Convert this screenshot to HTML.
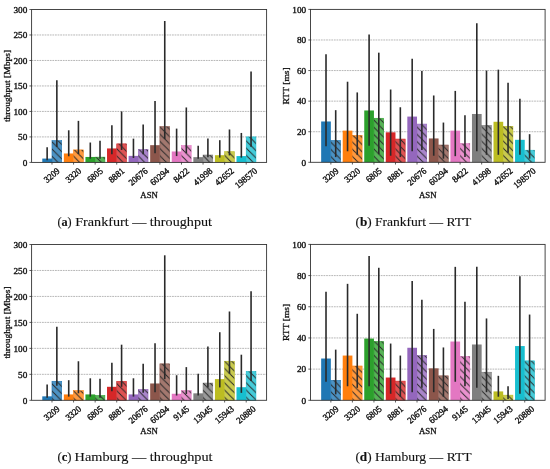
<!DOCTYPE html>
<html><head><meta charset="utf-8"><style>
html,body{margin:0;padding:0;background:#fff;}
svg{display:block;will-change:transform;}
text{font-family:"Liberation Serif", serif;fill:#111;stroke:#111;stroke-width:0.15px;} .tk{stroke-width:0.35px;} .cap{stroke-width:0.12px;} .lb{stroke-width:0.3px;}
</style></head><body>
<svg width="550" height="469" viewBox="0 0 550 469">
<defs><pattern id="hatch0" patternUnits="userSpaceOnUse" x="4.1" y="0" width="7.23" height="7.23"><path d="M-1,-1 L8.23,8.23 M-8.23,-1 L1,8.23 M6.23,-1 L15.46,8.23" stroke="#262626" stroke-width="0.95" fill="none"/></pattern><pattern id="hatch1" patternUnits="userSpaceOnUse" x="0.7" y="0" width="7.23" height="7.23"><path d="M-1,-1 L8.23,8.23 M-8.23,-1 L1,8.23 M6.23,-1 L15.46,8.23" stroke="#262626" stroke-width="0.95" fill="none"/></pattern><pattern id="hatch2" patternUnits="userSpaceOnUse" x="0.7" y="0" width="7.23" height="7.23"><path d="M-1,-1 L8.23,8.23 M-8.23,-1 L1,8.23 M6.23,-1 L15.46,8.23" stroke="#262626" stroke-width="0.95" fill="none"/></pattern><pattern id="hatch3" patternUnits="userSpaceOnUse" x="4.1" y="0" width="7.23" height="7.23"><path d="M-1,-1 L8.23,8.23 M-8.23,-1 L1,8.23 M6.23,-1 L15.46,8.23" stroke="#262626" stroke-width="0.95" fill="none"/></pattern></defs>
<line x1="31.60" y1="136.92" x2="266.60" y2="136.92" stroke="#b0b0b0" stroke-width="0.9" stroke-dasharray="1.8,0.8"/>
<line x1="31.60" y1="111.43" x2="266.60" y2="111.43" stroke="#b0b0b0" stroke-width="0.9" stroke-dasharray="1.8,0.8"/>
<line x1="31.60" y1="85.95" x2="266.60" y2="85.95" stroke="#b0b0b0" stroke-width="0.9" stroke-dasharray="1.8,0.8"/>
<line x1="31.60" y1="60.47" x2="266.60" y2="60.47" stroke="#b0b0b0" stroke-width="0.9" stroke-dasharray="1.8,0.8"/>
<line x1="31.60" y1="34.98" x2="266.60" y2="34.98" stroke="#b0b0b0" stroke-width="0.9" stroke-dasharray="1.8,0.8"/>
<rect x="42.28" y="158.58" width="9.71" height="3.82" fill="#1f77b4"/>
<rect x="51.99" y="140.59" width="9.71" height="21.81" fill="#4c92c3" stroke="#1f77b4" stroke-width="0.6"/>
<rect x="51.99" y="140.59" width="9.71" height="21.81" fill="url(#hatch0)"/>
<rect x="63.86" y="153.48" width="9.71" height="8.92" fill="#ff7f0e"/>
<rect x="73.57" y="149.91" width="9.71" height="12.49" fill="#ff993e" stroke="#ff7f0e" stroke-width="0.6"/>
<rect x="73.57" y="149.91" width="9.71" height="12.49" fill="url(#hatch0)"/>
<rect x="85.44" y="156.95" width="9.71" height="5.45" fill="#2ca02c"/>
<rect x="95.15" y="157.15" width="9.71" height="5.25" fill="#56b356" stroke="#2ca02c" stroke-width="0.6"/>
<rect x="95.15" y="157.15" width="9.71" height="5.25" fill="url(#hatch0)"/>
<rect x="107.02" y="148.44" width="9.71" height="13.96" fill="#d62728"/>
<rect x="116.73" y="143.85" width="9.71" height="18.55" fill="#de5253" stroke="#d62728" stroke-width="0.6"/>
<rect x="116.73" y="143.85" width="9.71" height="18.55" fill="url(#hatch0)"/>
<rect x="128.60" y="155.88" width="9.71" height="6.52" fill="#9467bd"/>
<rect x="138.31" y="149.56" width="9.71" height="12.84" fill="#a985ca" stroke="#9467bd" stroke-width="0.6"/>
<rect x="138.31" y="149.56" width="9.71" height="12.84" fill="url(#hatch0)"/>
<rect x="150.18" y="145.17" width="9.71" height="17.23" fill="#8c564b"/>
<rect x="159.89" y="126.62" width="9.71" height="35.78" fill="#a3786f" stroke="#8c564b" stroke-width="0.6"/>
<rect x="159.89" y="126.62" width="9.71" height="35.78" fill="url(#hatch0)"/>
<rect x="171.76" y="151.49" width="9.71" height="10.91" fill="#e377c2"/>
<rect x="181.47" y="145.63" width="9.71" height="16.77" fill="#e992ce" stroke="#e377c2" stroke-width="0.6"/>
<rect x="181.47" y="145.63" width="9.71" height="16.77" fill="url(#hatch0)"/>
<rect x="193.34" y="157.15" width="9.71" height="5.25" fill="#7f7f7f"/>
<rect x="203.05" y="155.01" width="9.71" height="7.39" fill="#999999" stroke="#7f7f7f" stroke-width="0.6"/>
<rect x="203.05" y="155.01" width="9.71" height="7.39" fill="url(#hatch0)"/>
<rect x="214.92" y="155.21" width="9.71" height="7.19" fill="#bcbd22"/>
<rect x="224.63" y="151.70" width="9.71" height="10.70" fill="#c9ca4e" stroke="#bcbd22" stroke-width="0.6"/>
<rect x="224.63" y="151.70" width="9.71" height="10.70" fill="url(#hatch0)"/>
<rect x="236.50" y="156.08" width="9.71" height="6.32" fill="#17becf"/>
<rect x="246.21" y="136.92" width="9.71" height="25.48" fill="#45cbd9" stroke="#17becf" stroke-width="0.6"/>
<rect x="246.21" y="136.92" width="9.71" height="25.48" fill="url(#hatch0)"/>
<line x1="47.14" y1="160.36" x2="47.14" y2="147.36" stroke="#2a2a2a" stroke-width="1.6"/>
<line x1="56.85" y1="147.11" x2="56.85" y2="80.34" stroke="#2a2a2a" stroke-width="1.6"/>
<line x1="68.72" y1="156.28" x2="68.72" y2="130.29" stroke="#2a2a2a" stroke-width="1.6"/>
<line x1="78.43" y1="153.99" x2="78.43" y2="120.86" stroke="#2a2a2a" stroke-width="1.6"/>
<line x1="90.30" y1="158.68" x2="90.30" y2="142.52" stroke="#2a2a2a" stroke-width="1.6"/>
<line x1="100.01" y1="158.68" x2="100.01" y2="140.74" stroke="#2a2a2a" stroke-width="1.6"/>
<line x1="111.88" y1="154.35" x2="111.88" y2="125.35" stroke="#2a2a2a" stroke-width="1.6"/>
<line x1="121.59" y1="149.96" x2="121.59" y2="111.43" stroke="#2a2a2a" stroke-width="1.6"/>
<line x1="133.45" y1="158.02" x2="133.45" y2="138.65" stroke="#2a2a2a" stroke-width="1.6"/>
<line x1="143.17" y1="154.35" x2="143.17" y2="124.43" stroke="#2a2a2a" stroke-width="1.6"/>
<line x1="155.03" y1="153.23" x2="155.03" y2="100.88" stroke="#2a2a2a" stroke-width="1.6"/>
<line x1="164.75" y1="139.06" x2="164.75" y2="20.97" stroke="#2a2a2a" stroke-width="1.6"/>
<line x1="176.61" y1="156.08" x2="176.61" y2="128.61" stroke="#2a2a2a" stroke-width="1.6"/>
<line x1="186.32" y1="153.23" x2="186.32" y2="107.46" stroke="#2a2a2a" stroke-width="1.6"/>
<line x1="198.19" y1="158.68" x2="198.19" y2="145.63" stroke="#2a2a2a" stroke-width="1.6"/>
<line x1="207.90" y1="157.15" x2="207.90" y2="138.39" stroke="#2a2a2a" stroke-width="1.6"/>
<line x1="219.77" y1="157.61" x2="219.77" y2="140.18" stroke="#2a2a2a" stroke-width="1.6"/>
<line x1="229.48" y1="155.42" x2="229.48" y2="129.48" stroke="#2a2a2a" stroke-width="1.6"/>
<line x1="241.35" y1="157.61" x2="241.35" y2="132.94" stroke="#2a2a2a" stroke-width="1.6"/>
<line x1="251.06" y1="146.70" x2="251.06" y2="71.58" stroke="#2a2a2a" stroke-width="1.6"/>
<rect x="31.60" y="9.50" width="235.00" height="152.90" fill="none" stroke="#333" stroke-width="0.9"/>
<line x1="29.40" y1="162.40" x2="31.60" y2="162.40" stroke="#333" stroke-width="0.8"/>
<text class="tk" transform="translate(27.30,165.66) scale(1.05,0.95)" text-anchor="end" font-size="8.8">0</text>
<line x1="29.40" y1="136.92" x2="31.60" y2="136.92" stroke="#333" stroke-width="0.8"/>
<text class="tk" transform="translate(27.30,140.18) scale(1.05,0.95)" text-anchor="end" font-size="8.8">50</text>
<line x1="29.40" y1="111.43" x2="31.60" y2="111.43" stroke="#333" stroke-width="0.8"/>
<text class="tk" transform="translate(27.30,114.69) scale(1.05,0.95)" text-anchor="end" font-size="8.8">100</text>
<line x1="29.40" y1="85.95" x2="31.60" y2="85.95" stroke="#333" stroke-width="0.8"/>
<text class="tk" transform="translate(27.30,89.21) scale(1.05,0.95)" text-anchor="end" font-size="8.8">150</text>
<line x1="29.40" y1="60.47" x2="31.60" y2="60.47" stroke="#333" stroke-width="0.8"/>
<text class="tk" transform="translate(27.30,63.73) scale(1.05,0.95)" text-anchor="end" font-size="8.8">200</text>
<line x1="29.40" y1="34.98" x2="31.60" y2="34.98" stroke="#333" stroke-width="0.8"/>
<text class="tk" transform="translate(27.30,38.24) scale(1.05,0.95)" text-anchor="end" font-size="8.8">250</text>
<line x1="29.40" y1="9.50" x2="31.60" y2="9.50" stroke="#333" stroke-width="0.8"/>
<text class="tk" transform="translate(27.30,12.76) scale(1.05,0.95)" text-anchor="end" font-size="8.8">300</text>
<line x1="51.99" y1="162.40" x2="51.99" y2="164.60" stroke="#333" stroke-width="0.8"/>
<text class="tk" transform="translate(60.37,172.02) rotate(-40) scale(1.0,1.05)" text-anchor="end" font-size="8.7" letter-spacing="0.0">3209</text>
<line x1="73.57" y1="162.40" x2="73.57" y2="164.60" stroke="#333" stroke-width="0.8"/>
<text class="tk" transform="translate(81.94,172.02) rotate(-40) scale(1.0,1.05)" text-anchor="end" font-size="8.7" letter-spacing="0.0">3320</text>
<line x1="95.15" y1="162.40" x2="95.15" y2="164.60" stroke="#333" stroke-width="0.8"/>
<text class="tk" transform="translate(103.52,172.02) rotate(-40) scale(1.0,1.05)" text-anchor="end" font-size="8.7" letter-spacing="0.0">6805</text>
<line x1="116.73" y1="162.40" x2="116.73" y2="164.60" stroke="#333" stroke-width="0.8"/>
<text class="tk" transform="translate(125.10,172.02) rotate(-40) scale(1.0,1.05)" text-anchor="end" font-size="8.7" letter-spacing="0.0">8881</text>
<line x1="138.31" y1="162.40" x2="138.31" y2="164.60" stroke="#333" stroke-width="0.8"/>
<text class="tk" transform="translate(148.35,172.02) rotate(-40) scale(1.0,1.05)" text-anchor="end" font-size="8.7" letter-spacing="0.0">20676</text>
<line x1="159.89" y1="162.40" x2="159.89" y2="164.60" stroke="#333" stroke-width="0.8"/>
<text class="tk" transform="translate(169.93,172.02) rotate(-40) scale(1.0,1.05)" text-anchor="end" font-size="8.7" letter-spacing="0.0">60294</text>
<line x1="181.47" y1="162.40" x2="181.47" y2="164.60" stroke="#333" stroke-width="0.8"/>
<text class="tk" transform="translate(189.84,172.02) rotate(-40) scale(1.0,1.05)" text-anchor="end" font-size="8.7" letter-spacing="0.0">8422</text>
<line x1="203.05" y1="162.40" x2="203.05" y2="164.60" stroke="#333" stroke-width="0.8"/>
<text class="tk" transform="translate(213.09,172.02) rotate(-40) scale(1.0,1.05)" text-anchor="end" font-size="8.7" letter-spacing="0.0">41998</text>
<line x1="224.63" y1="162.40" x2="224.63" y2="164.60" stroke="#333" stroke-width="0.8"/>
<text class="tk" transform="translate(234.67,172.02) rotate(-40) scale(1.0,1.05)" text-anchor="end" font-size="8.7" letter-spacing="0.0">42652</text>
<line x1="246.21" y1="162.40" x2="246.21" y2="164.60" stroke="#333" stroke-width="0.8"/>
<text class="tk" transform="translate(257.91,172.02) rotate(-40) scale(1.0,1.05)" text-anchor="end" font-size="8.7" letter-spacing="0.0">198570</text>
<text x="149.10" y="197.90" class="lb" text-anchor="middle" font-size="8.8">ASN</text>
<text transform="translate(10.30,85.95) rotate(-90) scale(1.085,1)" class="lb" text-anchor="middle" font-size="8.8">throughput [Mbps]</text>
<text class="cap" x="57.40" y="226.20" font-size="12.9" textLength="14.30" lengthAdjust="spacingAndGlyphs">(<tspan font-weight="bold">a</tspan>)</text>
<text class="cap" x="75.20" y="226.20" font-size="12.9" textLength="136.80" lengthAdjust="spacingAndGlyphs">Frankfurt — throughput</text>
<line x1="310.50" y1="131.72" x2="545.10" y2="131.72" stroke="#b0b0b0" stroke-width="0.9" stroke-dasharray="1.8,0.8"/>
<line x1="310.50" y1="101.14" x2="545.10" y2="101.14" stroke="#b0b0b0" stroke-width="0.9" stroke-dasharray="1.8,0.8"/>
<line x1="310.50" y1="70.56" x2="545.10" y2="70.56" stroke="#b0b0b0" stroke-width="0.9" stroke-dasharray="1.8,0.8"/>
<line x1="310.50" y1="39.98" x2="545.10" y2="39.98" stroke="#b0b0b0" stroke-width="0.9" stroke-dasharray="1.8,0.8"/>
<rect x="321.16" y="121.48" width="9.69" height="40.82" fill="#1f77b4"/>
<rect x="330.86" y="140.44" width="9.69" height="21.86" fill="#4c92c3" stroke="#1f77b4" stroke-width="0.6"/>
<rect x="330.86" y="140.44" width="9.69" height="21.86" fill="url(#hatch1)"/>
<rect x="342.71" y="130.65" width="9.69" height="31.65" fill="#ff7f0e"/>
<rect x="352.40" y="135.54" width="9.69" height="26.76" fill="#ff993e" stroke="#ff7f0e" stroke-width="0.6"/>
<rect x="352.40" y="135.54" width="9.69" height="26.76" fill="url(#hatch1)"/>
<rect x="364.25" y="110.47" width="9.69" height="51.83" fill="#2ca02c"/>
<rect x="373.94" y="118.26" width="9.69" height="44.04" fill="#56b356" stroke="#2ca02c" stroke-width="0.6"/>
<rect x="373.94" y="118.26" width="9.69" height="44.04" fill="url(#hatch1)"/>
<rect x="385.79" y="132.33" width="9.69" height="29.97" fill="#d62728"/>
<rect x="395.49" y="139.06" width="9.69" height="23.24" fill="#de5253" stroke="#d62728" stroke-width="0.6"/>
<rect x="395.49" y="139.06" width="9.69" height="23.24" fill="url(#hatch1)"/>
<rect x="407.33" y="116.58" width="9.69" height="45.72" fill="#9467bd"/>
<rect x="417.03" y="124.08" width="9.69" height="38.23" fill="#a985ca" stroke="#9467bd" stroke-width="0.6"/>
<rect x="417.03" y="124.08" width="9.69" height="38.23" fill="url(#hatch1)"/>
<rect x="428.88" y="138.45" width="9.69" height="23.85" fill="#8c564b"/>
<rect x="438.57" y="145.02" width="9.69" height="17.28" fill="#a3786f" stroke="#8c564b" stroke-width="0.6"/>
<rect x="438.57" y="145.02" width="9.69" height="17.28" fill="url(#hatch1)"/>
<rect x="450.42" y="130.65" width="9.69" height="31.65" fill="#e377c2"/>
<rect x="460.11" y="143.65" width="9.69" height="18.65" fill="#e992ce" stroke="#e377c2" stroke-width="0.6"/>
<rect x="460.11" y="143.65" width="9.69" height="18.65" fill="url(#hatch1)"/>
<rect x="471.96" y="113.98" width="9.69" height="48.32" fill="#7f7f7f"/>
<rect x="481.66" y="125.45" width="9.69" height="36.85" fill="#999999" stroke="#7f7f7f" stroke-width="0.6"/>
<rect x="481.66" y="125.45" width="9.69" height="36.85" fill="url(#hatch1)"/>
<rect x="493.51" y="121.78" width="9.69" height="40.52" fill="#bcbd22"/>
<rect x="503.20" y="126.37" width="9.69" height="35.93" fill="#c9ca4e" stroke="#bcbd22" stroke-width="0.6"/>
<rect x="503.20" y="126.37" width="9.69" height="35.93" fill="url(#hatch1)"/>
<rect x="515.05" y="139.82" width="9.69" height="22.48" fill="#17becf"/>
<rect x="524.74" y="150.22" width="9.69" height="12.08" fill="#45cbd9" stroke="#17becf" stroke-width="0.6"/>
<rect x="524.74" y="150.22" width="9.69" height="12.08" fill="url(#hatch1)"/>
<line x1="326.01" y1="146.25" x2="326.01" y2="54.35" stroke="#2a2a2a" stroke-width="1.6"/>
<line x1="335.70" y1="157.10" x2="335.70" y2="110.16" stroke="#2a2a2a" stroke-width="1.6"/>
<line x1="347.55" y1="151.29" x2="347.55" y2="81.72" stroke="#2a2a2a" stroke-width="1.6"/>
<line x1="357.25" y1="154.81" x2="357.25" y2="92.42" stroke="#2a2a2a" stroke-width="1.6"/>
<line x1="369.10" y1="145.63" x2="369.10" y2="34.48" stroke="#2a2a2a" stroke-width="1.6"/>
<line x1="378.79" y1="154.20" x2="378.79" y2="52.67" stroke="#2a2a2a" stroke-width="1.6"/>
<line x1="390.64" y1="155.73" x2="390.64" y2="89.52" stroke="#2a2a2a" stroke-width="1.6"/>
<line x1="400.33" y1="157.10" x2="400.33" y2="107.26" stroke="#2a2a2a" stroke-width="1.6"/>
<line x1="412.18" y1="151.29" x2="412.18" y2="58.63" stroke="#2a2a2a" stroke-width="1.6"/>
<line x1="421.88" y1="149.92" x2="421.88" y2="71.02" stroke="#2a2a2a" stroke-width="1.6"/>
<line x1="433.72" y1="155.73" x2="433.72" y2="95.48" stroke="#2a2a2a" stroke-width="1.6"/>
<line x1="443.42" y1="158.63" x2="443.42" y2="122.55" stroke="#2a2a2a" stroke-width="1.6"/>
<line x1="455.27" y1="156.18" x2="455.27" y2="90.90" stroke="#2a2a2a" stroke-width="1.6"/>
<line x1="464.96" y1="157.10" x2="464.96" y2="115.36" stroke="#2a2a2a" stroke-width="1.6"/>
<line x1="476.81" y1="151.29" x2="476.81" y2="23.31" stroke="#2a2a2a" stroke-width="1.6"/>
<line x1="486.50" y1="154.81" x2="486.50" y2="70.56" stroke="#2a2a2a" stroke-width="1.6"/>
<line x1="498.35" y1="154.81" x2="498.35" y2="69.64" stroke="#2a2a2a" stroke-width="1.6"/>
<line x1="508.05" y1="152.82" x2="508.05" y2="82.64" stroke="#2a2a2a" stroke-width="1.6"/>
<line x1="519.90" y1="154.81" x2="519.90" y2="98.69" stroke="#2a2a2a" stroke-width="1.6"/>
<line x1="529.59" y1="158.63" x2="529.59" y2="134.17" stroke="#2a2a2a" stroke-width="1.6"/>
<rect x="310.50" y="9.40" width="234.60" height="152.90" fill="none" stroke="#333" stroke-width="0.9"/>
<line x1="308.30" y1="162.30" x2="310.50" y2="162.30" stroke="#333" stroke-width="0.8"/>
<text class="tk" transform="translate(306.20,165.56) scale(1.05,0.95)" text-anchor="end" font-size="8.8">0</text>
<line x1="308.30" y1="131.72" x2="310.50" y2="131.72" stroke="#333" stroke-width="0.8"/>
<text class="tk" transform="translate(306.20,134.98) scale(1.05,0.95)" text-anchor="end" font-size="8.8">20</text>
<line x1="308.30" y1="101.14" x2="310.50" y2="101.14" stroke="#333" stroke-width="0.8"/>
<text class="tk" transform="translate(306.20,104.40) scale(1.05,0.95)" text-anchor="end" font-size="8.8">40</text>
<line x1="308.30" y1="70.56" x2="310.50" y2="70.56" stroke="#333" stroke-width="0.8"/>
<text class="tk" transform="translate(306.20,73.82) scale(1.05,0.95)" text-anchor="end" font-size="8.8">60</text>
<line x1="308.30" y1="39.98" x2="310.50" y2="39.98" stroke="#333" stroke-width="0.8"/>
<text class="tk" transform="translate(306.20,43.24) scale(1.05,0.95)" text-anchor="end" font-size="8.8">80</text>
<line x1="308.30" y1="9.40" x2="310.50" y2="9.40" stroke="#333" stroke-width="0.8"/>
<text class="tk" transform="translate(306.20,12.66) scale(1.05,0.95)" text-anchor="end" font-size="8.8">100</text>
<line x1="330.86" y1="162.30" x2="330.86" y2="164.50" stroke="#333" stroke-width="0.8"/>
<text class="tk" transform="translate(339.23,171.92) rotate(-40) scale(1.0,1.05)" text-anchor="end" font-size="8.7" letter-spacing="0.0">3209</text>
<line x1="352.40" y1="162.30" x2="352.40" y2="164.50" stroke="#333" stroke-width="0.8"/>
<text class="tk" transform="translate(360.77,171.92) rotate(-40) scale(1.0,1.05)" text-anchor="end" font-size="8.7" letter-spacing="0.0">3320</text>
<line x1="373.94" y1="162.30" x2="373.94" y2="164.50" stroke="#333" stroke-width="0.8"/>
<text class="tk" transform="translate(382.32,171.92) rotate(-40) scale(1.0,1.05)" text-anchor="end" font-size="8.7" letter-spacing="0.0">6805</text>
<line x1="395.49" y1="162.30" x2="395.49" y2="164.50" stroke="#333" stroke-width="0.8"/>
<text class="tk" transform="translate(403.86,171.92) rotate(-40) scale(1.0,1.05)" text-anchor="end" font-size="8.7" letter-spacing="0.0">8881</text>
<line x1="417.03" y1="162.30" x2="417.03" y2="164.50" stroke="#333" stroke-width="0.8"/>
<text class="tk" transform="translate(427.07,171.92) rotate(-40) scale(1.0,1.05)" text-anchor="end" font-size="8.7" letter-spacing="0.0">20676</text>
<line x1="438.57" y1="162.30" x2="438.57" y2="164.50" stroke="#333" stroke-width="0.8"/>
<text class="tk" transform="translate(448.61,171.92) rotate(-40) scale(1.0,1.05)" text-anchor="end" font-size="8.7" letter-spacing="0.0">60294</text>
<line x1="460.11" y1="162.30" x2="460.11" y2="164.50" stroke="#333" stroke-width="0.8"/>
<text class="tk" transform="translate(468.49,171.92) rotate(-40) scale(1.0,1.05)" text-anchor="end" font-size="8.7" letter-spacing="0.0">8422</text>
<line x1="481.66" y1="162.30" x2="481.66" y2="164.50" stroke="#333" stroke-width="0.8"/>
<text class="tk" transform="translate(491.70,171.92) rotate(-40) scale(1.0,1.05)" text-anchor="end" font-size="8.7" letter-spacing="0.0">41998</text>
<line x1="503.20" y1="162.30" x2="503.20" y2="164.50" stroke="#333" stroke-width="0.8"/>
<text class="tk" transform="translate(513.24,171.92) rotate(-40) scale(1.0,1.05)" text-anchor="end" font-size="8.7" letter-spacing="0.0">42652</text>
<line x1="524.74" y1="162.30" x2="524.74" y2="164.50" stroke="#333" stroke-width="0.8"/>
<text class="tk" transform="translate(536.45,171.92) rotate(-40) scale(1.0,1.05)" text-anchor="end" font-size="8.7" letter-spacing="0.0">198570</text>
<text x="427.80" y="197.80" class="lb" text-anchor="middle" font-size="8.8">ASN</text>
<text transform="translate(289.20,85.85) rotate(-90) scale(1.085,1)" class="lb" text-anchor="middle" font-size="8.8">RTT [ms]</text>
<text class="cap" x="355.50" y="226.20" font-size="12.9" textLength="16.20" lengthAdjust="spacingAndGlyphs">(<tspan font-weight="bold">b</tspan>)</text>
<text class="cap" x="374.90" y="226.20" font-size="12.9" textLength="96.30" lengthAdjust="spacingAndGlyphs">Frankfurt — RTT</text>
<line x1="31.60" y1="374.33" x2="266.60" y2="374.33" stroke="#b0b0b0" stroke-width="0.9" stroke-dasharray="1.8,0.8"/>
<line x1="31.60" y1="348.37" x2="266.60" y2="348.37" stroke="#b0b0b0" stroke-width="0.9" stroke-dasharray="1.8,0.8"/>
<line x1="31.60" y1="322.40" x2="266.60" y2="322.40" stroke="#b0b0b0" stroke-width="0.9" stroke-dasharray="1.8,0.8"/>
<line x1="31.60" y1="296.43" x2="266.60" y2="296.43" stroke="#b0b0b0" stroke-width="0.9" stroke-dasharray="1.8,0.8"/>
<line x1="31.60" y1="270.47" x2="266.60" y2="270.47" stroke="#b0b0b0" stroke-width="0.9" stroke-dasharray="1.8,0.8"/>
<rect x="42.28" y="396.35" width="9.71" height="3.95" fill="#1f77b4"/>
<rect x="51.99" y="381.29" width="9.71" height="19.01" fill="#4c92c3" stroke="#1f77b4" stroke-width="0.6"/>
<rect x="51.99" y="381.29" width="9.71" height="19.01" fill="url(#hatch2)"/>
<rect x="63.86" y="394.43" width="9.71" height="5.87" fill="#ff7f0e"/>
<rect x="73.57" y="390.69" width="9.71" height="9.61" fill="#ff993e" stroke="#ff7f0e" stroke-width="0.6"/>
<rect x="73.57" y="390.69" width="9.71" height="9.61" fill="url(#hatch2)"/>
<rect x="85.44" y="394.43" width="9.71" height="5.87" fill="#2ca02c"/>
<rect x="95.15" y="395.52" width="9.71" height="4.78" fill="#56b356" stroke="#2ca02c" stroke-width="0.6"/>
<rect x="95.15" y="395.52" width="9.71" height="4.78" fill="url(#hatch2)"/>
<rect x="107.02" y="386.80" width="9.71" height="13.50" fill="#d62728"/>
<rect x="116.73" y="381.29" width="9.71" height="19.01" fill="#de5253" stroke="#d62728" stroke-width="0.6"/>
<rect x="116.73" y="381.29" width="9.71" height="19.01" fill="url(#hatch2)"/>
<rect x="128.60" y="394.43" width="9.71" height="5.87" fill="#9467bd"/>
<rect x="138.31" y="389.39" width="9.71" height="10.91" fill="#a985ca" stroke="#9467bd" stroke-width="0.6"/>
<rect x="138.31" y="389.39" width="9.71" height="10.91" fill="url(#hatch2)"/>
<rect x="150.18" y="383.47" width="9.71" height="16.83" fill="#8c564b"/>
<rect x="159.89" y="363.84" width="9.71" height="36.46" fill="#a3786f" stroke="#8c564b" stroke-width="0.6"/>
<rect x="159.89" y="363.84" width="9.71" height="36.46" fill="url(#hatch2)"/>
<rect x="171.76" y="393.76" width="9.71" height="6.54" fill="#e377c2"/>
<rect x="181.47" y="390.69" width="9.71" height="9.61" fill="#e992ce" stroke="#e377c2" stroke-width="0.6"/>
<rect x="181.47" y="390.69" width="9.71" height="9.61" fill="url(#hatch2)"/>
<rect x="193.34" y="393.34" width="9.71" height="6.96" fill="#7f7f7f"/>
<rect x="203.05" y="383.06" width="9.71" height="17.24" fill="#999999" stroke="#7f7f7f" stroke-width="0.6"/>
<rect x="203.05" y="383.06" width="9.71" height="17.24" fill="url(#hatch2)"/>
<rect x="214.92" y="379.11" width="9.71" height="21.19" fill="#bcbd22"/>
<rect x="224.63" y="361.25" width="9.71" height="39.05" fill="#c9ca4e" stroke="#bcbd22" stroke-width="0.6"/>
<rect x="224.63" y="361.25" width="9.71" height="39.05" fill="url(#hatch2)"/>
<rect x="236.50" y="387.21" width="9.71" height="13.09" fill="#17becf"/>
<rect x="246.21" y="371.48" width="9.71" height="28.82" fill="#45cbd9" stroke="#17becf" stroke-width="0.6"/>
<rect x="246.21" y="371.48" width="9.71" height="28.82" fill="url(#hatch2)"/>
<line x1="47.14" y1="397.70" x2="47.14" y2="384.56" stroke="#2a2a2a" stroke-width="1.6"/>
<line x1="56.85" y1="385.65" x2="56.85" y2="326.76" stroke="#2a2a2a" stroke-width="1.6"/>
<line x1="68.72" y1="396.61" x2="68.72" y2="380.20" stroke="#2a2a2a" stroke-width="1.6"/>
<line x1="78.43" y1="393.34" x2="78.43" y2="361.25" stroke="#2a2a2a" stroke-width="1.6"/>
<line x1="90.30" y1="396.61" x2="90.30" y2="378.28" stroke="#2a2a2a" stroke-width="1.6"/>
<line x1="100.01" y1="397.70" x2="100.01" y2="378.70" stroke="#2a2a2a" stroke-width="1.6"/>
<line x1="111.88" y1="391.16" x2="111.88" y2="362.75" stroke="#2a2a2a" stroke-width="1.6"/>
<line x1="121.59" y1="386.80" x2="121.59" y2="344.68" stroke="#2a2a2a" stroke-width="1.6"/>
<line x1="133.45" y1="396.61" x2="133.45" y2="378.28" stroke="#2a2a2a" stroke-width="1.6"/>
<line x1="143.17" y1="392.67" x2="143.17" y2="363.84" stroke="#2a2a2a" stroke-width="1.6"/>
<line x1="155.03" y1="392.25" x2="155.03" y2="343.17" stroke="#2a2a2a" stroke-width="1.6"/>
<line x1="164.75" y1="379.11" x2="164.75" y2="255.30" stroke="#2a2a2a" stroke-width="1.6"/>
<line x1="176.61" y1="395.52" x2="176.61" y2="375.22" stroke="#2a2a2a" stroke-width="1.6"/>
<line x1="186.32" y1="393.96" x2="186.32" y2="367.11" stroke="#2a2a2a" stroke-width="1.6"/>
<line x1="198.19" y1="395.52" x2="198.19" y2="373.66" stroke="#2a2a2a" stroke-width="1.6"/>
<line x1="207.90" y1="387.42" x2="207.90" y2="346.39" stroke="#2a2a2a" stroke-width="1.6"/>
<line x1="219.77" y1="387.42" x2="219.77" y2="332.22" stroke="#2a2a2a" stroke-width="1.6"/>
<line x1="229.48" y1="373.66" x2="229.48" y2="311.49" stroke="#2a2a2a" stroke-width="1.6"/>
<line x1="241.35" y1="392.87" x2="241.35" y2="354.70" stroke="#2a2a2a" stroke-width="1.6"/>
<line x1="251.06" y1="380.88" x2="251.06" y2="291.29" stroke="#2a2a2a" stroke-width="1.6"/>
<rect x="31.60" y="244.50" width="235.00" height="155.80" fill="none" stroke="#333" stroke-width="0.9"/>
<line x1="29.40" y1="400.30" x2="31.60" y2="400.30" stroke="#333" stroke-width="0.8"/>
<text class="tk" transform="translate(27.30,403.56) scale(1.05,0.95)" text-anchor="end" font-size="8.8">0</text>
<line x1="29.40" y1="374.33" x2="31.60" y2="374.33" stroke="#333" stroke-width="0.8"/>
<text class="tk" transform="translate(27.30,377.59) scale(1.05,0.95)" text-anchor="end" font-size="8.8">50</text>
<line x1="29.40" y1="348.37" x2="31.60" y2="348.37" stroke="#333" stroke-width="0.8"/>
<text class="tk" transform="translate(27.30,351.63) scale(1.05,0.95)" text-anchor="end" font-size="8.8">100</text>
<line x1="29.40" y1="322.40" x2="31.60" y2="322.40" stroke="#333" stroke-width="0.8"/>
<text class="tk" transform="translate(27.30,325.66) scale(1.05,0.95)" text-anchor="end" font-size="8.8">150</text>
<line x1="29.40" y1="296.43" x2="31.60" y2="296.43" stroke="#333" stroke-width="0.8"/>
<text class="tk" transform="translate(27.30,299.69) scale(1.05,0.95)" text-anchor="end" font-size="8.8">200</text>
<line x1="29.40" y1="270.47" x2="31.60" y2="270.47" stroke="#333" stroke-width="0.8"/>
<text class="tk" transform="translate(27.30,273.73) scale(1.05,0.95)" text-anchor="end" font-size="8.8">250</text>
<line x1="29.40" y1="244.50" x2="31.60" y2="244.50" stroke="#333" stroke-width="0.8"/>
<text class="tk" transform="translate(27.30,247.76) scale(1.05,0.95)" text-anchor="end" font-size="8.8">300</text>
<line x1="51.99" y1="400.30" x2="51.99" y2="402.50" stroke="#333" stroke-width="0.8"/>
<text class="tk" transform="translate(60.37,409.92) rotate(-40) scale(1.0,1.05)" text-anchor="end" font-size="8.7" letter-spacing="0.0">3209</text>
<line x1="73.57" y1="400.30" x2="73.57" y2="402.50" stroke="#333" stroke-width="0.8"/>
<text class="tk" transform="translate(81.94,409.92) rotate(-40) scale(1.0,1.05)" text-anchor="end" font-size="8.7" letter-spacing="0.0">3320</text>
<line x1="95.15" y1="400.30" x2="95.15" y2="402.50" stroke="#333" stroke-width="0.8"/>
<text class="tk" transform="translate(103.52,409.92) rotate(-40) scale(1.0,1.05)" text-anchor="end" font-size="8.7" letter-spacing="0.0">6805</text>
<line x1="116.73" y1="400.30" x2="116.73" y2="402.50" stroke="#333" stroke-width="0.8"/>
<text class="tk" transform="translate(125.10,409.92) rotate(-40) scale(1.0,1.05)" text-anchor="end" font-size="8.7" letter-spacing="0.0">8881</text>
<line x1="138.31" y1="400.30" x2="138.31" y2="402.50" stroke="#333" stroke-width="0.8"/>
<text class="tk" transform="translate(148.35,409.92) rotate(-40) scale(1.0,1.05)" text-anchor="end" font-size="8.7" letter-spacing="0.0">20676</text>
<line x1="159.89" y1="400.30" x2="159.89" y2="402.50" stroke="#333" stroke-width="0.8"/>
<text class="tk" transform="translate(169.93,409.92) rotate(-40) scale(1.0,1.05)" text-anchor="end" font-size="8.7" letter-spacing="0.0">60294</text>
<line x1="181.47" y1="400.30" x2="181.47" y2="402.50" stroke="#333" stroke-width="0.8"/>
<text class="tk" transform="translate(189.84,409.92) rotate(-40) scale(1.0,1.05)" text-anchor="end" font-size="8.7" letter-spacing="0.0">9145</text>
<line x1="203.05" y1="400.30" x2="203.05" y2="402.50" stroke="#333" stroke-width="0.8"/>
<text class="tk" transform="translate(213.09,409.92) rotate(-40) scale(1.0,1.05)" text-anchor="end" font-size="8.7" letter-spacing="0.0">13045</text>
<line x1="224.63" y1="400.30" x2="224.63" y2="402.50" stroke="#333" stroke-width="0.8"/>
<text class="tk" transform="translate(234.67,409.92) rotate(-40) scale(1.0,1.05)" text-anchor="end" font-size="8.7" letter-spacing="0.0">15943</text>
<line x1="246.21" y1="400.30" x2="246.21" y2="402.50" stroke="#333" stroke-width="0.8"/>
<text class="tk" transform="translate(256.25,409.92) rotate(-40) scale(1.0,1.05)" text-anchor="end" font-size="8.7" letter-spacing="0.0">20880</text>
<text x="149.10" y="433.90" class="lb" text-anchor="middle" font-size="8.8">ASN</text>
<text transform="translate(10.30,322.40) rotate(-90) scale(1.085,1)" class="lb" text-anchor="middle" font-size="8.8">throughput [Mbps]</text>
<text class="cap" x="57.45" y="461.30" font-size="12.9" textLength="14.10" lengthAdjust="spacingAndGlyphs">(<tspan font-weight="bold">c</tspan>)</text>
<text class="cap" x="74.60" y="461.30" font-size="12.9" textLength="138.00" lengthAdjust="spacingAndGlyphs">Hamburg — throughput</text>
<line x1="310.50" y1="369.12" x2="545.10" y2="369.12" stroke="#b0b0b0" stroke-width="0.9" stroke-dasharray="1.8,0.8"/>
<line x1="310.50" y1="337.94" x2="545.10" y2="337.94" stroke="#b0b0b0" stroke-width="0.9" stroke-dasharray="1.8,0.8"/>
<line x1="310.50" y1="306.76" x2="545.10" y2="306.76" stroke="#b0b0b0" stroke-width="0.9" stroke-dasharray="1.8,0.8"/>
<line x1="310.50" y1="275.58" x2="545.10" y2="275.58" stroke="#b0b0b0" stroke-width="0.9" stroke-dasharray="1.8,0.8"/>
<rect x="321.16" y="358.52" width="9.69" height="41.78" fill="#1f77b4"/>
<rect x="330.86" y="380.34" width="9.69" height="19.96" fill="#4c92c3" stroke="#1f77b4" stroke-width="0.6"/>
<rect x="330.86" y="380.34" width="9.69" height="19.96" fill="url(#hatch3)"/>
<rect x="342.71" y="355.56" width="9.69" height="44.74" fill="#ff7f0e"/>
<rect x="352.40" y="366.00" width="9.69" height="34.30" fill="#ff993e" stroke="#ff7f0e" stroke-width="0.6"/>
<rect x="352.40" y="366.00" width="9.69" height="34.30" fill="url(#hatch3)"/>
<rect x="364.25" y="338.56" width="9.69" height="61.74" fill="#2ca02c"/>
<rect x="373.94" y="341.53" width="9.69" height="58.77" fill="#56b356" stroke="#2ca02c" stroke-width="0.6"/>
<rect x="373.94" y="341.53" width="9.69" height="58.77" fill="url(#hatch3)"/>
<rect x="385.79" y="377.54" width="9.69" height="22.76" fill="#d62728"/>
<rect x="395.49" y="381.12" width="9.69" height="19.18" fill="#de5253" stroke="#d62728" stroke-width="0.6"/>
<rect x="395.49" y="381.12" width="9.69" height="19.18" fill="url(#hatch3)"/>
<rect x="407.33" y="347.76" width="9.69" height="52.54" fill="#9467bd"/>
<rect x="417.03" y="355.56" width="9.69" height="44.74" fill="#a985ca" stroke="#9467bd" stroke-width="0.6"/>
<rect x="417.03" y="355.56" width="9.69" height="44.74" fill="url(#hatch3)"/>
<rect x="428.88" y="368.34" width="9.69" height="31.96" fill="#8c564b"/>
<rect x="438.57" y="375.82" width="9.69" height="24.48" fill="#a3786f" stroke="#8c564b" stroke-width="0.6"/>
<rect x="438.57" y="375.82" width="9.69" height="24.48" fill="url(#hatch3)"/>
<rect x="450.42" y="341.53" width="9.69" height="58.77" fill="#e377c2"/>
<rect x="460.11" y="356.49" width="9.69" height="43.81" fill="#e992ce" stroke="#e377c2" stroke-width="0.6"/>
<rect x="460.11" y="356.49" width="9.69" height="43.81" fill="url(#hatch3)"/>
<rect x="471.96" y="344.49" width="9.69" height="55.81" fill="#7f7f7f"/>
<rect x="481.66" y="372.24" width="9.69" height="28.06" fill="#999999" stroke="#7f7f7f" stroke-width="0.6"/>
<rect x="481.66" y="372.24" width="9.69" height="28.06" fill="url(#hatch3)"/>
<rect x="493.51" y="391.41" width="9.69" height="8.89" fill="#bcbd22"/>
<rect x="503.20" y="395.16" width="9.69" height="5.14" fill="#c9ca4e" stroke="#bcbd22" stroke-width="0.6"/>
<rect x="503.20" y="395.16" width="9.69" height="5.14" fill="url(#hatch3)"/>
<rect x="515.05" y="346.05" width="9.69" height="54.25" fill="#17becf"/>
<rect x="524.74" y="360.86" width="9.69" height="39.44" fill="#45cbd9" stroke="#17becf" stroke-width="0.6"/>
<rect x="524.74" y="360.86" width="9.69" height="39.44" fill="url(#hatch3)"/>
<line x1="326.01" y1="381.75" x2="326.01" y2="291.64" stroke="#2a2a2a" stroke-width="1.6"/>
<line x1="335.70" y1="394.38" x2="335.70" y2="349.63" stroke="#2a2a2a" stroke-width="1.6"/>
<line x1="347.55" y1="386.27" x2="347.55" y2="283.84" stroke="#2a2a2a" stroke-width="1.6"/>
<line x1="357.25" y1="387.83" x2="357.25" y2="313.78" stroke="#2a2a2a" stroke-width="1.6"/>
<line x1="369.10" y1="386.27" x2="369.10" y2="256.09" stroke="#2a2a2a" stroke-width="1.6"/>
<line x1="378.79" y1="390.79" x2="378.79" y2="267.78" stroke="#2a2a2a" stroke-width="1.6"/>
<line x1="390.64" y1="393.75" x2="390.64" y2="343.55" stroke="#2a2a2a" stroke-width="1.6"/>
<line x1="400.33" y1="396.71" x2="400.33" y2="355.56" stroke="#2a2a2a" stroke-width="1.6"/>
<line x1="412.18" y1="392.19" x2="412.18" y2="280.88" stroke="#2a2a2a" stroke-width="1.6"/>
<line x1="421.88" y1="387.83" x2="421.88" y2="299.74" stroke="#2a2a2a" stroke-width="1.6"/>
<line x1="433.72" y1="392.19" x2="433.72" y2="328.90" stroke="#2a2a2a" stroke-width="1.6"/>
<line x1="443.42" y1="396.71" x2="443.42" y2="347.45" stroke="#2a2a2a" stroke-width="1.6"/>
<line x1="455.27" y1="381.75" x2="455.27" y2="266.85" stroke="#2a2a2a" stroke-width="1.6"/>
<line x1="464.96" y1="386.27" x2="464.96" y2="301.77" stroke="#2a2a2a" stroke-width="1.6"/>
<line x1="476.81" y1="387.83" x2="476.81" y2="266.85" stroke="#2a2a2a" stroke-width="1.6"/>
<line x1="486.50" y1="392.19" x2="486.50" y2="318.45" stroke="#2a2a2a" stroke-width="1.6"/>
<line x1="498.35" y1="396.71" x2="498.35" y2="375.82" stroke="#2a2a2a" stroke-width="1.6"/>
<line x1="508.05" y1="399.05" x2="508.05" y2="386.27" stroke="#2a2a2a" stroke-width="1.6"/>
<line x1="519.90" y1="393.75" x2="519.90" y2="276.36" stroke="#2a2a2a" stroke-width="1.6"/>
<line x1="529.59" y1="395.16" x2="529.59" y2="314.56" stroke="#2a2a2a" stroke-width="1.6"/>
<rect x="310.50" y="244.40" width="234.60" height="155.90" fill="none" stroke="#333" stroke-width="0.9"/>
<line x1="308.30" y1="400.30" x2="310.50" y2="400.30" stroke="#333" stroke-width="0.8"/>
<text class="tk" transform="translate(306.20,403.56) scale(1.05,0.95)" text-anchor="end" font-size="8.8">0</text>
<line x1="308.30" y1="369.12" x2="310.50" y2="369.12" stroke="#333" stroke-width="0.8"/>
<text class="tk" transform="translate(306.20,372.38) scale(1.05,0.95)" text-anchor="end" font-size="8.8">20</text>
<line x1="308.30" y1="337.94" x2="310.50" y2="337.94" stroke="#333" stroke-width="0.8"/>
<text class="tk" transform="translate(306.20,341.20) scale(1.05,0.95)" text-anchor="end" font-size="8.8">40</text>
<line x1="308.30" y1="306.76" x2="310.50" y2="306.76" stroke="#333" stroke-width="0.8"/>
<text class="tk" transform="translate(306.20,310.02) scale(1.05,0.95)" text-anchor="end" font-size="8.8">60</text>
<line x1="308.30" y1="275.58" x2="310.50" y2="275.58" stroke="#333" stroke-width="0.8"/>
<text class="tk" transform="translate(306.20,278.84) scale(1.05,0.95)" text-anchor="end" font-size="8.8">80</text>
<line x1="308.30" y1="244.40" x2="310.50" y2="244.40" stroke="#333" stroke-width="0.8"/>
<text class="tk" transform="translate(306.20,247.66) scale(1.05,0.95)" text-anchor="end" font-size="8.8">100</text>
<line x1="330.86" y1="400.30" x2="330.86" y2="402.50" stroke="#333" stroke-width="0.8"/>
<text class="tk" transform="translate(339.23,409.92) rotate(-40) scale(1.0,1.05)" text-anchor="end" font-size="8.7" letter-spacing="0.0">3209</text>
<line x1="352.40" y1="400.30" x2="352.40" y2="402.50" stroke="#333" stroke-width="0.8"/>
<text class="tk" transform="translate(360.77,409.92) rotate(-40) scale(1.0,1.05)" text-anchor="end" font-size="8.7" letter-spacing="0.0">3320</text>
<line x1="373.94" y1="400.30" x2="373.94" y2="402.50" stroke="#333" stroke-width="0.8"/>
<text class="tk" transform="translate(382.32,409.92) rotate(-40) scale(1.0,1.05)" text-anchor="end" font-size="8.7" letter-spacing="0.0">6805</text>
<line x1="395.49" y1="400.30" x2="395.49" y2="402.50" stroke="#333" stroke-width="0.8"/>
<text class="tk" transform="translate(403.86,409.92) rotate(-40) scale(1.0,1.05)" text-anchor="end" font-size="8.7" letter-spacing="0.0">8881</text>
<line x1="417.03" y1="400.30" x2="417.03" y2="402.50" stroke="#333" stroke-width="0.8"/>
<text class="tk" transform="translate(427.07,409.92) rotate(-40) scale(1.0,1.05)" text-anchor="end" font-size="8.7" letter-spacing="0.0">20676</text>
<line x1="438.57" y1="400.30" x2="438.57" y2="402.50" stroke="#333" stroke-width="0.8"/>
<text class="tk" transform="translate(448.61,409.92) rotate(-40) scale(1.0,1.05)" text-anchor="end" font-size="8.7" letter-spacing="0.0">60294</text>
<line x1="460.11" y1="400.30" x2="460.11" y2="402.50" stroke="#333" stroke-width="0.8"/>
<text class="tk" transform="translate(468.49,409.92) rotate(-40) scale(1.0,1.05)" text-anchor="end" font-size="8.7" letter-spacing="0.0">9145</text>
<line x1="481.66" y1="400.30" x2="481.66" y2="402.50" stroke="#333" stroke-width="0.8"/>
<text class="tk" transform="translate(491.70,409.92) rotate(-40) scale(1.0,1.05)" text-anchor="end" font-size="8.7" letter-spacing="0.0">13045</text>
<line x1="503.20" y1="400.30" x2="503.20" y2="402.50" stroke="#333" stroke-width="0.8"/>
<text class="tk" transform="translate(513.24,409.92) rotate(-40) scale(1.0,1.05)" text-anchor="end" font-size="8.7" letter-spacing="0.0">15943</text>
<line x1="524.74" y1="400.30" x2="524.74" y2="402.50" stroke="#333" stroke-width="0.8"/>
<text class="tk" transform="translate(534.78,409.92) rotate(-40) scale(1.0,1.05)" text-anchor="end" font-size="8.7" letter-spacing="0.0">20880</text>
<text x="427.80" y="433.90" class="lb" text-anchor="middle" font-size="8.8">ASN</text>
<text transform="translate(289.20,322.35) rotate(-90) scale(1.085,1)" class="lb" text-anchor="middle" font-size="8.8">RTT [ms]</text>
<text class="cap" x="355.40" y="461.20" font-size="12.9" textLength="16.20" lengthAdjust="spacingAndGlyphs">(<tspan font-weight="bold">d</tspan>)</text>
<text class="cap" x="374.90" y="461.20" font-size="12.9" textLength="96.70" lengthAdjust="spacingAndGlyphs">Hamburg — RTT</text>
</svg></body></html>
